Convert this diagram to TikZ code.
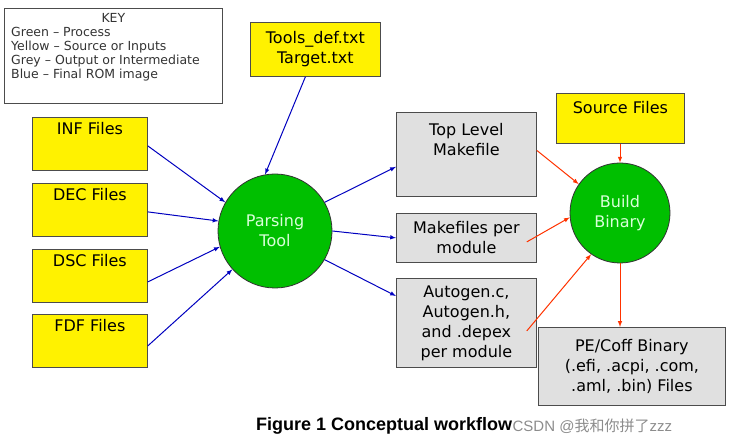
\documentclass[tikz,border=0pt]{standalone}
\usepackage{fontspec}
\setmainfont{DejaVu Sans}
\newfontfamily\capfont{Liberation Sans}
\newfontfamily\cjk{Noto Sans CJK SC}
\begin{document}
\begin{tikzpicture}[x=1pt,y=-1pt,
 box/.style={draw=black!70,line width=0.8pt,anchor=north west,inner sep=2pt,align=center,font=\fontsize{16}{20}\selectfont},
 yb/.style={box,fill=yellow},
 gb/.style={box,fill=black!12},
 proc/.style={circle,draw=black!80,fill=green!75!black,line width=0.8pt,text=white!85!green,align=center,font=\fontsize{16}{20}\selectfont},
 ba/.style={draw=blue!75!black,line width=1pt,-latex},
 ra/.style={draw=red!60!orange,line width=1pt,-latex}]
\useasboundingbox (0,0) rectangle (732,443);
\node[draw=black!70,line width=0.8pt,anchor=north west,minimum width=218,minimum height=95,inner sep=0] (key) at (4,8) {};
\node[anchor=north,inner sep=0,font=\fontsize{12.5}{14}\selectfont,text=black!80] (keyh) at ([yshift=-5pt]key.north) {KEY};
\node[anchor=north west,align=left,font=\fontsize{12.5}{14}\selectfont,text=black!80,inner sep=0] (keyt) at (11,27) {Green -- Process\\Yellow -- Source or Inputs\\Grey -- Output or Intermediate\\Blue -- Final ROM image};
\node[yb,minimum width=130,minimum height=54] (tools) at (250,22) {Tools\_def.txt\\Target.txt};
\node[yb,minimum width=115,minimum height=53,text depth=30pt] (inf) at (32,117) {INF Files};
\node[yb,minimum width=115,minimum height=53,text depth=30pt] (dec) at (32,183) {DEC Files};
\node[yb,minimum width=115,minimum height=53,text depth=30pt] (dsc) at (32,249) {DSC Files};
\node[yb,minimum width=115,minimum height=53,text depth=30pt] (fdf) at (32,314) {FDF Files};
\node[proc,minimum size=114] (parse) at (275,231) {Parsing\\Tool};
\node[gb,minimum width=140,minimum height=84,text depth=30pt] (top) at (396,112) {Top Level\\Makefile};
\node[gb,minimum width=140,minimum height=49] (mk) at (396,213) {Makefiles per\\module};
\node[gb,minimum width=140,minimum height=89] (ag) at (396,278) {Autogen.c,\\Autogen.h,\\and .depex\\per module};
\node[yb,minimum width=128,minimum height=50,text depth=22pt] (src) at (556,93) {Source Files};
\node[proc,minimum size=100] (build) at (620,213) {Build\\Binary};
\node[gb,minimum width=187,minimum height=78] (pe) at (538,327) {PE/Coff Binary\\(.efi, .acpi, .com,\\.aml, .bin) Files};
\node[anchor=west,inner sep=0] (cap) at (256,426) {\capfont\bfseries\fontsize{18}{20}\selectfont Figure 1 Conceptual workflow};
\node[anchor=west,inner sep=0,text=black!45] (wm) at (cap.east) {\capfont\fontsize{15}{17}\selectfont CSDN @\cjk 我和你拼了\capfont zzz};
\draw[ba] ([yshift=-2pt]inf.east) -- (parse.150);
\draw[ba] ([yshift=-2pt]dec.east) -- (parse.170);
\draw[ba] ([yshift=-6pt]dsc.east) -- (parse.196);
\draw[ba] ([yshift=-5pt]fdf.east) -- (parse.222);
\draw[ba] ([xshift=-10pt]tools.south) -- (parse.100);
\draw[ba] (parse.30) -- ([yshift=30pt]top.south west);
\draw[ba] (parse.0) -- (mk.west);
\draw[ba] (parse.-30) -- ([yshift=-18pt]ag.north west);
\draw[ra] ([yshift=4pt]top.east) -- (build.145);
\draw[ra] ([yshift=-4pt,xshift=-10pt]mk.east) -- (build.185);
\draw[ra] ([yshift=-8pt,xshift=-10pt]ag.east) -- (build.235);
\draw[ra] (src.south-|build.north) -- (build.north);
\draw[ra] (build.south) -- (build.south|-pe.north);
\end{tikzpicture}
\end{document}
